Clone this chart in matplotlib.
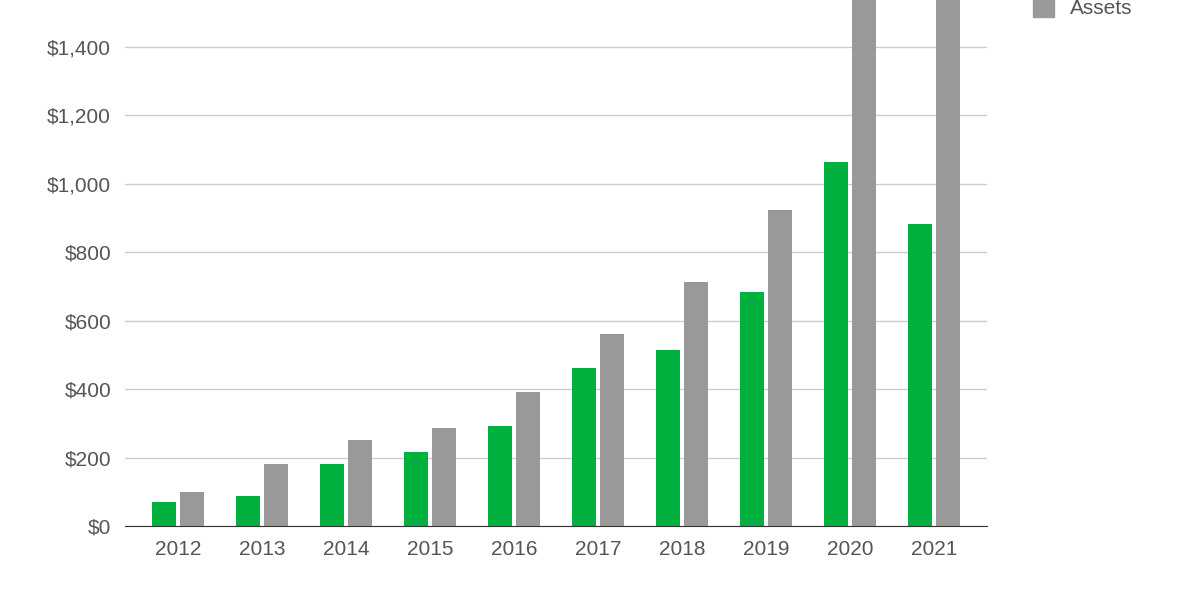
import numpy as np
import matplotlib.pyplot as plt
from matplotlib.patches import Patch

plt.rcParams["font.family"] = ["Liberation Sans", "DejaVu Sans"]

years = ["2012", "2013", "2014", "2015", "2016", "2017", "2018", "2019", "2020", "2021"]
revenue = [70, 88, 181, 216, 292, 462, 514, 684, 1064, 883]
assets = [99, 181, 251, 286, 392, 561, 713, 924, 1900, 2100]
yticks = [0, 200, 400, 600, 800, 1000, 1200, 1400]

GREEN = "#00b140"
GRAY = "#999999"

fig = plt.figure(figsize=(12, 6), dpi=100)
ax = fig.add_axes([125 / 1200, 74 / 600, 862 / 1200, 526 / 600])

x = np.arange(len(years))
w = 0.285
ax.bar(x - w / 2 - 0.024, revenue, w, color=GREEN, zorder=3)
ax.bar(x + w / 2 + 0.024, assets, w, color=GRAY, zorder=3)

ax.set_xlim(-0.63, len(years) - 0.37)
ax.set_ylim(0, 1537)
ax.set_yticks(yticks)
ax.set_yticklabels([f"${v:,}" for v in yticks])
ax.set_xticks(x)
ax.set_xticklabels(years)
ax.grid(axis="y", color="#cccccc", lw=1, zorder=0)
for s in ["top", "right", "left"]:
    ax.spines[s].set_visible(False)
ax.spines["bottom"].set_color("#333333")
ax.tick_params(length=0, labelsize=15, labelcolor="#555555", pad=10)

fig.legend(handles=[Patch(color=GREEN), Patch(color=GRAY)], labels=["Revenue", "Assets"],
           loc="upper left", bbox_to_anchor=(0.845, 1.1), frameon=False,
           fontsize=15, labelcolor="#555555", handlelength=1.0, handleheight=1.0,
           labelspacing=0.9)

fig.savefig("out.png")
